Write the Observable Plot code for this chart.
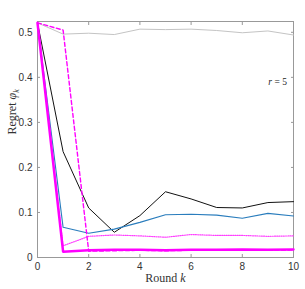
<!DOCTYPE html>
<html><head><meta charset="utf-8">
<script src="https://cdn.jsdelivr.net/npm/d3@7"></script>
<script src="https://cdn.jsdelivr.net/npm/@observablehq/plot@0.6"></script>
<style>body{margin:0;background:#fff}</style>
</head><body><div id="chart"></div>
<script>
const rounds = [0,1,2,3,4,5,6,7,8,9,10];
const grayVals    = [0.521,0.496,0.498,0.495,0.507,0.506,0.507,0.504,0.499,0.503,0.494];
const blackVals   = [0.521,0.235,0.110,0.056,0.093,0.146,0.130,0.111,0.110,0.122,0.124];
const blueVals    = [0.521,0.067,0.054,0.063,0.078,0.095,0.096,0.094,0.087,0.098,0.092];
const dottedVals  = [0.521,0.026,0.047,0.050,0.048,0.045,0.051,0.049,0.049,0.047,0.048];
const solidVals   = [0.521,0.013,0.016,0.017,0.017,0.016,0.017,0.017,0.018,0.017,0.018];
const dashedVals  = [0.521,0.505,0.014,0.015,0.016,0.015,0.016,0.016,0.017,0.016,0.017];
const xTicks = [0,2,4,6,8,10];
const yTicks = [0,0.1,0.2,0.3,0.4,0.5];
const yTickLabels = ["0","0.1","0.2","0.3","0.4","0.5"];
const annotation = [{x: 9.38, y: 0.39, label: "r = 5"}];

const series = (vals) => rounds.map((k, i) => ({k, v: vals[i]}));
const tickStyle = {fontFamily: "Liberation Sans, Arial, sans-serif", fontSize: 10, color: "#333"};

const chart = Plot.plot({
  width: 305, height: 289,
  marginLeft: 37, marginRight: 12, marginTop: 21, marginBottom: 32,
  style: {background: "#fff", ...tickStyle},
  x: {domain: [0, 10]},
  y: {domain: [0, 0.524]},
  marks: [
    Plot.frame({stroke: "#999", strokeWidth: 1}),
    Plot.axisX({anchor: "bottom", ticks: xTicks, tickSize: -3, tickFormat: () => "", stroke: "#999", label: null}),
    Plot.axisX({anchor: "top", ticks: xTicks, tickSize: -3, tickFormat: () => "", stroke: "#999", label: null}),
    Plot.axisY({anchor: "left", ticks: yTicks, tickSize: -3, tickFormat: () => "", stroke: "#999", label: null}),
    Plot.axisY({anchor: "right", ticks: yTicks, tickSize: -3, tickFormat: () => "", stroke: "#999", label: null}),
    Plot.axisX({anchor: "bottom", ticks: xTicks, tickSize: 0, tickPadding: 5, fill: "#333", fontSize: 10, label: null}),
    Plot.axisY({anchor: "left", ticks: yTicks, tickSize: 0, tickPadding: 5, fill: "#333", fontSize: 10, label: null,
      tickFormat: (d) => yTickLabels[yTicks.indexOf(d)]}),
    Plot.line(series(grayVals), {x: "k", y: "v", stroke: "#c4c4c4", strokeWidth: 1}),
    Plot.line(series(blackVals), {x: "k", y: "v", stroke: "#111", strokeWidth: 1}),
    Plot.line(series(blueVals), {x: "k", y: "v", stroke: "#2a7dbd", strokeWidth: 1.1}),
    Plot.line(series(dottedVals), {x: "k", y: "v", stroke: "#ff40ff", strokeWidth: 1.2, strokeDasharray: "1,1.2"}),
    Plot.line(series(solidVals), {x: "k", y: "v", stroke: "#ff00ff", strokeWidth: 2.5}),
    Plot.line(series(dashedVals), {x: "k", y: "v", stroke: "#ff00ff", strokeWidth: 1.4, strokeDasharray: "4,2.5"}),
    Plot.text(annotation, {x: "x", y: "y", text: "label", fontFamily: "Liberation Serif, serif", fontSize: 9.5, fill: "#222"}),
    Plot.text(["Round k"], {frameAnchor: "bottom", dy: 24, text: d => d, fontFamily: "Liberation Serif, serif", fontSize: 12, fill: "#333"}),
    Plot.text(["Regret φk"], {frameAnchor: "left", dx: -25, dy: -5, rotate: -90, text: d => d, fontFamily: "Liberation Serif, DejaVu Serif, serif", fontSize: 12, fill: "#333"})
  ]
});
document.getElementById("chart").appendChild(chart);

// italic math parts as tspans
const NS = "http://www.w3.org/2000/svg";
function ts(txt, attrs) {
  const t = document.createElementNS(NS, "tspan");
  t.textContent = txt;
  for (const [k, v] of Object.entries(attrs || {})) t.setAttribute(k, v);
  return t;
}
chart.querySelectorAll("text").forEach(el => {
  const s = el.textContent;
  if (s === "Round k") {
    el.textContent = "";
    el.append(ts("Round "), ts("k", {"font-style": "italic"}));
  } else if (s === "Regret φk") {
    el.textContent = "";
    el.append(ts("Regret "), ts("φ", {"font-style": "italic"}), ts("k", {"font-style": "italic", "font-size": 8, dy: "2.5"}));
  } else if (s === "r = 5") {
    el.textContent = "";
    el.append(ts("r", {"font-style": "italic"}), ts(" = 5"));
  }
});
</script>
</body></html>
